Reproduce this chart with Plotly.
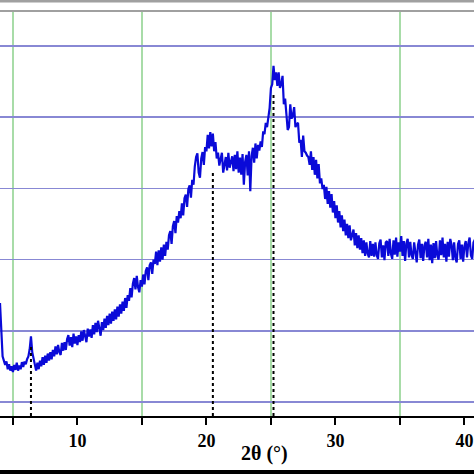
import plotly.graph_objects as go

# 2-theta values (degrees), step 0.1 from 4.0
x_start = 4.0
x_step = 0.1

# Intensity (a.u.), one row per degree
intensity = [
    139, 98, 64, 58, 52, 57, 46, 53, 44, 50,          # 4
    42, 52, 45, 55, 44, 51, 46, 56, 49, 57,           # 5
    53, 60, 64, 74, 92, 70, 60, 50, 44, 55,           # 6
    46, 58, 50, 63, 52, 65, 55, 68, 58, 70,           # 7
    60, 73, 64, 78, 67, 80, 70, 66, 83, 72,           # 8
    84, 73, 88, 94, 79, 91, 77, 96, 82, 92,           # 9
    80, 94, 84, 99, 86, 101, 90, 84, 103, 92,         # 10
    102, 90, 108, 95, 111, 98, 114, 100, 93, 112,     # 11
    101, 117, 104, 121, 108, 124, 110, 127, 114, 130, # 12
    116, 134, 120, 137, 124, 141, 128, 146, 132, 150, # 13
    142, 160, 147, 166, 174, 158, 177, 161, 154, 171, # 14
    162, 179, 165, 184, 189, 171, 192, 196, 180, 200, # 15
    194, 211, 192, 213, 197, 217, 200, 221, 205, 225, # 16
    214, 234, 240, 222, 247, 254, 237, 261, 252, 268, # 17
    258, 279, 262, 286, 291, 274, 299, 304, 287, 312, # 18
    305, 331, 344, 349, 322, 315, 342, 351, 333, 358, # 19
    352, 375, 356, 379, 359, 377, 352, 365, 342, 350, # 20
    332, 341, 350, 322, 335, 344, 325, 350, 329, 336, # 21
    345, 324, 347, 327, 352, 322, 343, 319, 348, 305, # 22
    337, 347, 318, 352, 296, 345, 357, 336, 363, 342, # 23
    361, 353, 366, 358, 380, 376, 392, 386, 403, 413, # 24
    441, 446, 472, 452, 463, 444, 463, 441, 446, 458, # 25
    418, 426, 404, 382, 386, 418, 398, 402, 414, 386, # 26
    390, 392, 364, 368, 344, 374, 352, 350, 346, 344, # 27
    333, 352, 326, 344, 319, 340, 314, 334, 307, 314, # 28
    299, 305, 285, 302, 278, 296, 273, 292, 266, 282, # 29
    258, 276, 252, 268, 245, 262, 240, 256, 234, 250, # 30
    230, 248, 227, 236, 242, 220, 237, 216, 234, 214, # 31
    230, 209, 227, 205, 224, 208, 203, 226, 205, 222, # 32
    204, 224, 206, 201, 223, 228, 203, 220, 199, 224, # 33
    226, 205, 229, 208, 201, 227, 207, 231, 204, 224, # 34
    211, 233, 205, 226, 198, 223, 229, 203, 225, 206, # 35
    201, 224, 205, 196, 221, 228, 202, 222, 198, 220, # 36
    225, 203, 229, 199, 221, 195, 223, 202, 226, 205, # 37
    200, 227, 206, 231, 203, 222, 197, 225, 204, 229, # 38
    221, 199, 224, 202, 196, 222, 227, 201, 221, 197, # 39
    219, 226, 203, 223, 231, 206, 201, 224, 228,      # 40
]
two_theta = [round(x_start + i * x_step, 2) for i in range(len(intensity))]

# Marked peaks (dashed drop lines)
peak_positions = [6.4, 20.5, 25.2]
peak_heights = [80, 323, 434]

x_range = [4.0, 40.74]
y_range = [-19.7, 549]
y_grid = [0, 100, 200, 300, 400, 500]
x_tick_vals = [10, 20, 30, 40]
x_minor_vals = [5, 15, 25, 35]
x_label = "2θ (°)"

fig = go.Figure()
fig.add_trace(go.Scatter(x=two_theta, y=intensity, mode="lines",
                         line=dict(color="#0a0ad8", width=2.2),
                         showlegend=False, hoverinfo="skip"))

shapes = []
for px, ph in zip(peak_positions, peak_heights):
    shapes.append(dict(type="line", xref="x", yref="y", x0=px, x1=px, y0=y_range[0], y1=ph,
                       line=dict(color="black", width=2, dash="3px,3px")))
# frame lines from the cropped figure
shapes.append(dict(type="line", xref="paper", yref="paper", x0=0, x1=1, y0=1, y1=1,
                   line=dict(color="#a0a0a0", width=2)))
shapes.append(dict(type="line", xref="paper", yref="paper", x0=0, x1=1,
                   y0=1 + 10 / 405, y1=1 + 10 / 405, line=dict(color="#a0a0a0", width=3)))
shapes.append(dict(type="line", xref="paper", yref="paper", x0=0, x1=1,
                   y0=-(472 - 416) / 405, y1=-(472 - 416) / 405, line=dict(color="black", width=4)))

fig.update_layout(
    width=474, height=474,
    margin=dict(l=0, r=0, t=11, b=58, autoexpand=False),
    paper_bgcolor="white", plot_bgcolor="white",
    hovermode=False, dragmode=False,
    shapes=shapes,
    xaxis=dict(range=x_range, tickmode="array", tickvals=x_tick_vals,
               automargin=False, fixedrange=True,
               ticks="outside", ticklen=7, tickwidth=2, tickcolor="black",
               showgrid=False, zeroline=False, showspikes=False,
               showline=True, linecolor="black", linewidth=2,
               tickfont=dict(family="Liberation Serif", size=18, color="black", weight="bold"),
               minor=dict(tickmode="array", tickvals=x_minor_vals, ticks="outside",
                          ticklen=7, tickwidth=2, tickcolor="black",
                          showgrid=True, gridcolor="#a8dca8", gridwidth=1.5)),
    yaxis=dict(range=y_range, tickmode="array", tickvals=y_grid,
               showticklabels=False, showgrid=True, gridcolor="#8888d4", gridwidth=1.5,
               zeroline=False, showline=False, ticks="", automargin=False,
               fixedrange=True, showspikes=False),
    annotations=[dict(text=x_label, xref="paper", yref="paper",
                      x=264 / 474, y=-(453 - 416) / 405, xanchor="center", yanchor="middle",
                      showarrow=False,
                      font=dict(family="Liberation Serif", size=20, color="black", weight="bold"))],
)

fig.write_html("out.html", config={"displayModeBar": False, "staticPlot": True},
               post_script="document.body.style.margin='0';document.body.style.padding='0';")
